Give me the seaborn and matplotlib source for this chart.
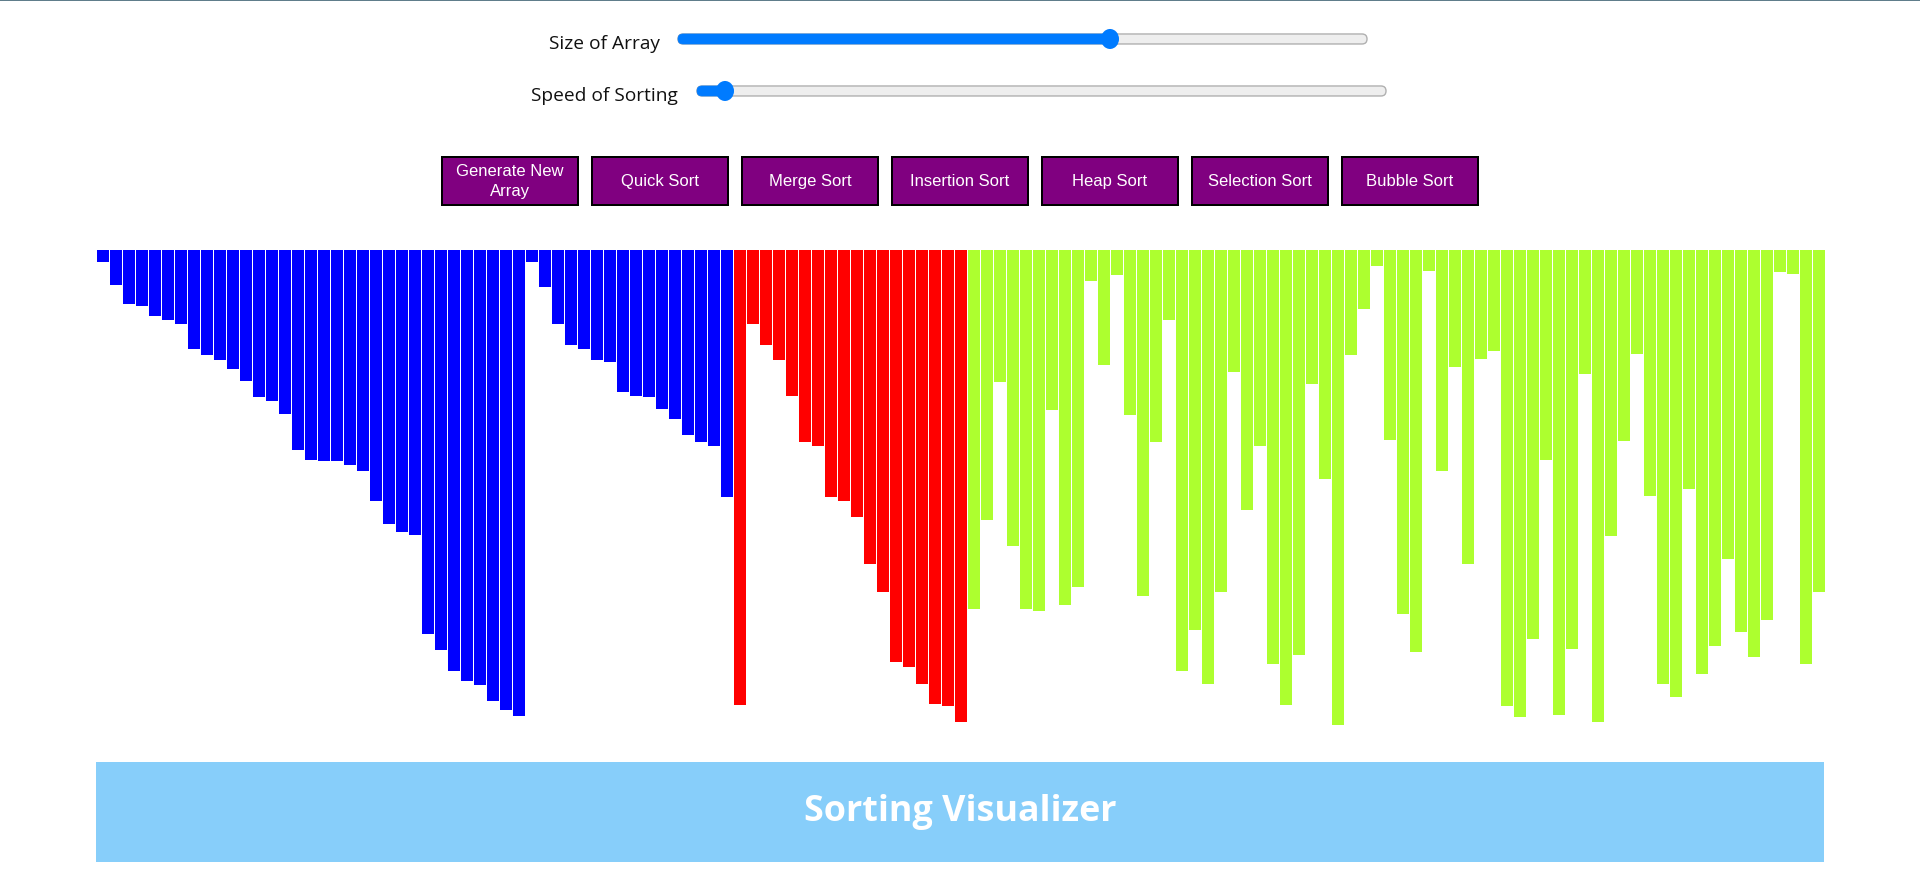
import matplotlib
matplotlib.use("Agg")
import matplotlib.pyplot as plt
from matplotlib.patches import FancyBboxPatch, Rectangle, Ellipse
import pandas as pd
import seaborn as sns

sorted_left = [12, 35, 54, 56, 66, 70, 74, 99, 105, 110, 119, 131, 147, 151, 164, 200, 210, 211, 211, 215,
               221, 251, 274, 282, 285, 384, 400, 421, 431, 435, 451, 460, 466,
               12, 37, 74, 95, 99, 110, 112, 142, 146, 147, 159, 169, 185, 192, 196, 247]
active = [455, 74, 95, 110, 146, 192, 196, 247, 251, 267, 314, 342, 412, 417, 434, 454, 456, 472]
unsorted_right = [359, 270, 132, 296, 359, 361, 160, 355, 337, 31, 115, 25, 165, 346, 192, 70, 421, 380, 434,
                  342, 122, 260, 196, 414, 455, 405, 134, 229, 475, 105, 59, 16, 190, 364, 402, 21, 221,
                  117, 314, 109, 101, 456, 467, 389, 210, 465, 399, 124, 472, 286, 191, 104, 246,
                  434, 447, 239, 424, 396, 309, 382, 407, 370, 22, 24, 414, 342]
group_names = ["done", "active", "todo"]
group_colors = ["#0000FF", "#FF0000", "#ADFF2F"]

slider_labels = ["Size of Array", "Speed of Sorting"]
button_labels = ["Generate New\nArray", "Quick Sort", "Merge Sort", "Insertion Sort",
                 "Heap Sort", "Selection Sort", "Bubble Sort"]
title_text = "Sorting Visualizer"

values = sorted_left + active + unsorted_right
groups = ([group_names[0]] * len(sorted_left) + [group_names[1]] * len(active)
          + [group_names[2]] * len(unsorted_right))
frame = pd.DataFrame({"index": range(len(values)), "height": values, "group": groups})

W, H = 1920, 891
sns.set_theme(style="white")
plt.rcParams["font.family"] = ["Open Sans", "DejaVu Sans"]
fig = plt.figure(figsize=((W + 0.02) / 100, (H + 0.02) / 100), dpi=100, facecolor="white")

ax = fig.add_axes([96.5 / W, 1 - 750 / H, 1729 / W, 500 / H])
sns.barplot(data=frame, x="index", y="height", hue="group", hue_order=group_names,
            palette=group_colors, dodge=False, width=12 / 13, saturation=1,
            linewidth=0, legend=False, ax=ax)
ax.set_xlim(-0.5, len(values) - 0.5)
ax.set_ylim(500, 0)
ax.axis("off")

ui = fig.add_axes([0, 0, 1, 1], facecolor="none")
ui.set_xlim(0, W)
ui.set_ylim(H, 0)
ui.axis("off")

ui.add_patch(Rectangle((0, 0), W, 1, fc="#607D8B", ec="none", lw=0))


def slider(x0, x1, yc, thumb, label, label_right):
    ui.add_patch(FancyBboxPatch((x0, yc - 5), x1 - x0, 10, boxstyle="round,pad=0,rounding_size=5",
                                fc="#EEEEEE", ec="#B0B0B0", lw=1))
    ui.add_patch(FancyBboxPatch((x0, yc - 5), thumb - x0, 10, boxstyle="round,pad=0,rounding_size=5",
                                fc="#007BFF", ec="#007BFF", lw=0.5))
    ui.add_patch(Ellipse((thumb, yc), 18, 20, fc="#007BFF", ec="none", lw=0))
    ui.text(label_right, yc + 5, label, ha="right", va="center", fontsize=13.8, color="#111111",
            family=["Open Sans", "DejaVu Sans"])


slider(678, 1367, 39, 1110, slider_labels[0], 660)
slider(697, 1386, 91, 725, slider_labels[1], 678)

for i, text in enumerate(button_labels):
    x0 = 441 + 150 * i
    ui.add_patch(Rectangle((x0, 156), 138, 50, fc="black", ec="none", lw=0))
    ui.add_patch(Rectangle((x0 + 2, 158), 134, 46, fc="#800080", ec="none", lw=0))
    ui.text(x0 + 69, 181.5, text, ha="center", va="center", color="white", fontsize=12,
            linespacing=1.42, family=["Liberation Sans", "DejaVu Sans"])

ui.add_patch(Rectangle((96, 762), 1728, 100, fc="#87CEFA", ec="none", lw=0))
ui.text(960.5, 821, title_text, ha="center", va="baseline", color="white", fontsize=25.8,
        fontweight="bold", family=["Open Sans", "DejaVu Sans"])

fig.savefig("out.png", dpi=100, facecolor="white")
